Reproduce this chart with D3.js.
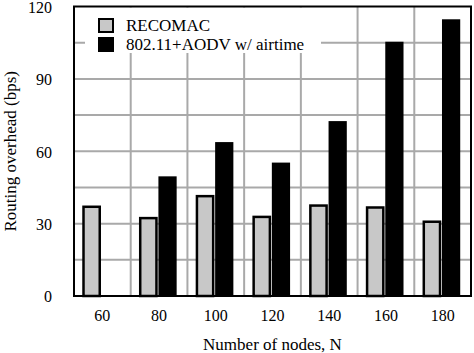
<!DOCTYPE html>
<html>
<head>
<meta charset="utf-8">
<script src="https://cdn.jsdelivr.net/npm/d3@7"></script>
<style>
  body { margin: 0; background: #fff; }
  svg text { font-family: "Liberation Serif", "Times New Roman", serif !important; fill: #000; }
</style>
</head>
<body>
<div id="chart"></div>
<script>
// data
const nodes = ["60", "80", "100", "120", "140", "160", "180"];
const recomac = [37.4, 32.7, 41.8, 33.2, 37.9, 37.1, 31.2];
const aodvAirtime = [0, 49.6, 63.8, 55.3, 72.5, 105.4, 114.7];
const seriesNames = ["RECOMAC", "802.11+AODV w/ airtime"];
const yTicks = [0, 30, 60, 90, 120];

const W = 474, H = 353;
const margin = { top: 6.5, right: 3, bottom: 57, left: 74 };
const width = W - margin.left - margin.right;
const height = H - margin.top - margin.bottom;

const svg = d3.select("#chart").append("svg")
  .attr("width", W)
  .attr("height", H);

const g = svg.append("g")
  .attr("transform", "translate(" + margin.left + "," + margin.top + ")");

const x0 = d3.scaleBand().domain(nodes).range([0, width]);
const bw = x0.bandwidth();
const x1 = d3.scaleBand().domain(seriesNames)
  .range([bw * 0.15, bw * 0.81]).paddingInner(0.05);
const y = d3.scaleLinear().domain([0, 120]).range([height, 0]);

// grid
const gridY = d3.range(15, 120, 15);
g.selectAll(".hgrid").data(gridY).enter().append("line")
  .attr("x1", 0).attr("x2", width)
  .attr("y1", d => y(d)).attr("y2", d => y(d))
  .attr("stroke", "#a9a9a9").attr("stroke-width", 2);
g.selectAll(".vgrid").data(nodes.slice(1)).enter().append("line")
  .attr("x1", d => x0(d)).attr("x2", d => x0(d))
  .attr("y1", 0).attr("y2", height)
  .attr("stroke", "#a9a9a9").attr("stroke-width", 2);

// legend background hides grid
g.append("rect")
  .attr("x", 11).attr("y", 1)
  .attr("width", 236).attr("height", 45.5)
  .attr("fill", "#fff");

// bars
const groups = g.selectAll(".grp").data(nodes).enter().append("g")
  .attr("transform", d => "translate(" + x0(d) + ",0)");

groups.append("rect")
  .attr("x", x1(seriesNames[0]) + 1)
  .attr("y", (d, i) => y(recomac[i]) + 1)
  .attr("width", x1.bandwidth() - 2)
  .attr("height", (d, i) => height - y(recomac[i]) - 1)
  .attr("fill", "#c8c8c8")
  .attr("stroke", "#000").attr("stroke-width", 2.5);

groups.filter((d, i) => aodvAirtime[i] > 0).append("rect")
  .attr("x", x1(seriesNames[1]))
  .attr("y", d => y(aodvAirtime[nodes.indexOf(d)]))
  .attr("width", x1.bandwidth())
  .attr("height", d => height - y(aodvAirtime[nodes.indexOf(d)]))
  .attr("fill", "#000");

// frame
g.append("rect")
  .attr("x", 0).attr("y", 0)
  .attr("width", width).attr("height", height)
  .attr("fill", "none").attr("stroke", "#000").attr("stroke-width", 2);

// axes
const yAxis = g.append("g")
  .call(d3.axisLeft(y).tickValues(yTicks).tickSize(0).tickPadding(22))
  .attr("font-family", "Liberation Serif")
  .attr("font-size", 16);
yAxis.select(".domain").remove();
yAxis.selectAll("text").attr("dy", "0.36em");

const xAxis = g.append("g")
  .attr("transform", "translate(0," + height + ")")
  .call(d3.axisBottom(x0).tickSize(0).tickPadding(14))
  .attr("font-family", "Liberation Serif")
  .attr("font-size", 16);
xAxis.select(".domain").remove();

// axis titles
svg.append("text")
  .attr("x", margin.left + width / 2).attr("y", 350)
  .attr("text-anchor", "middle")
  .style("font-size", "17px")
  .text("Number of nodes, N");

svg.append("text")
  .attr("transform", "translate(16," + (margin.top + height / 2) + ") rotate(-90)")
  .attr("text-anchor", "middle")
  .style("font-size", "17px")
  .text("Routing overhead (bps)");

// legend
const legendColors = ["#c8c8c8", "#000"];
const leg = g.selectAll(".leg").data(seriesNames).enter().append("g")
  .attr("transform", (d, i) => "translate(25," + (12.5 + i * 19) + ")");
leg.append("rect")
  .attr("width", 14).attr("height", 13)
  .attr("fill", (d, i) => legendColors[i])
  .attr("stroke", "#000").attr("stroke-width", 2);
leg.append("text")
  .attr("x", 27).attr("y", 12)
  .style("font-size", "17px")
  .text(d => d);
</script>
</body>
</html>
